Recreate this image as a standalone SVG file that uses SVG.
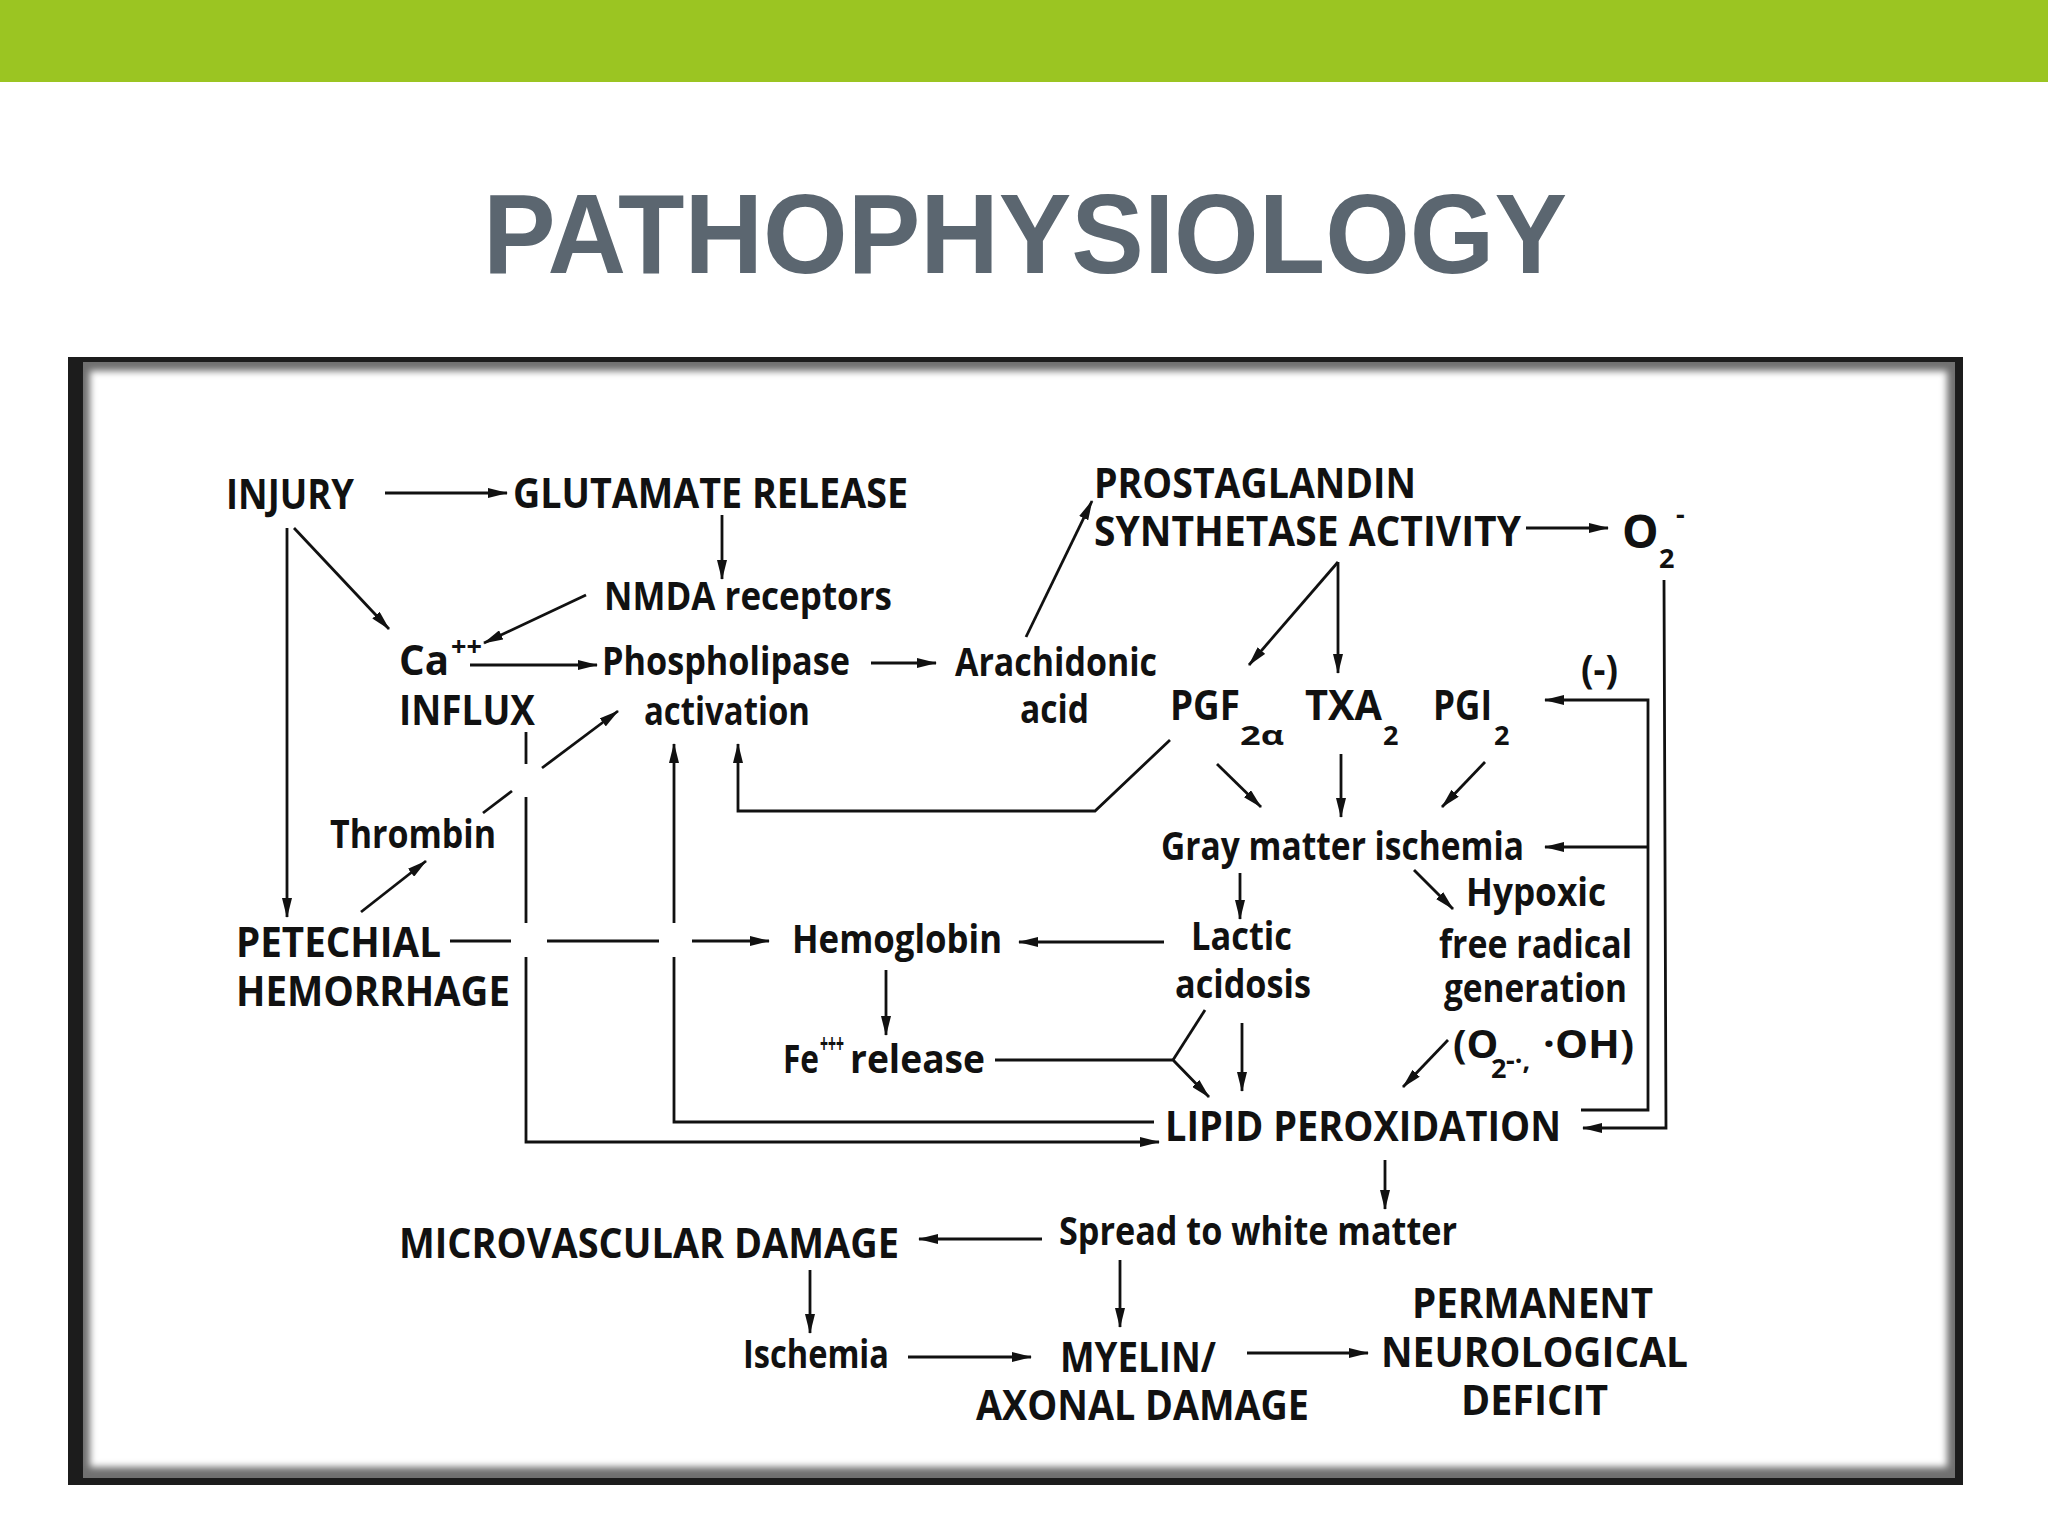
<svg xmlns="http://www.w3.org/2000/svg" width="2048" height="1536" viewBox="0 0 2048 1536">
<defs>
<marker id="ah" viewBox="0 0 20 10" refX="19" refY="5" markerWidth="20" markerHeight="10" markerUnits="userSpaceOnUse" orient="auto">
<path d="M0,0 L20,5 L0,10 z" fill="#111"/>
</marker>
<filter id="soft" x="-5%" y="-5%" width="110%" height="110%"><feGaussianBlur stdDeviation="3.5"/></filter>
<style>
.t{font-family:"Open Sans","Noto Sans",sans-serif;font-weight:700;fill:#111;font-size:40px}
.c{font-size:42px}
.s{font-size:27px}
.ln{fill:none;stroke:#111;stroke-width:2.8;stroke-linejoin:miter}
.ar{marker-end:url(#ah)}
</style>
</defs>
<rect x="0" y="0" width="2048" height="1536" fill="#ffffff"/>
<rect x="0" y="0" width="2048" height="82" fill="#9BC522"/>
<text x="1025" y="273" text-anchor="middle" font-family="'Liberation Sans',Arial,sans-serif" font-weight="700" font-size="113" fill="#5B6670" textLength="1084" lengthAdjust="spacingAndGlyphs">PATHOPHYSIOLOGY</text>

<g id="frame">
<rect x="68" y="357" width="1895" height="1128" fill="#1c1c1c"/>
<rect x="83" y="362" width="1872" height="1116" fill="#707070"/>
<rect x="90" y="371" width="1857" height="1096" fill="#ffffff" filter="url(#soft)"/>
</g>

<g id="connectors">
<path class="ln ar" d="M385,493 L507,493"/>
<path class="ln ar" d="M722,515 L722,579"/>
<path class="ln ar" d="M586,595 L484,643"/>
<path class="ln ar" d="M294,528 L389,629"/>
<path class="ln ar" d="M287,528 L287,917"/>
<path class="ln ar" d="M470,665 L597,665"/>
<path class="ln ar" d="M871,663 L936,663"/>
<path class="ln ar" d="M1026,637 L1092,501"/>
<path class="ln ar" d="M1526,528 L1608,528"/>
<path class="ln ar" d="M1338,562 L1249,665"/>
<path class="ln ar" d="M1338,562 L1338,673"/>
<path class="ln ar" d="M1217,764 L1261,807"/>
<path class="ln ar" d="M1341,754 L1341,817"/>
<path class="ln ar" d="M1485,762 L1442,807"/>
<path class="ln ar" d="M1170,740 L1095,811 L738,811 L738,744"/>
<path class="ln" d="M483,813 L512,791"/>
<path class="ln ar" d="M542,768 L618,711"/>
<path class="ln ar" d="M361,912 L426,861"/>
<path class="ln" d="M450,941 L511,941 M547,941 L659,941"/>
<path class="ln ar" d="M692,941 L769,941"/>
<path class="ln" d="M526,732 L526,764 M526,797 L526,923"/>
<path class="ln ar" d="M526,957 L526,1142 L1159,1142"/>
<path class="ln" d="M1154,1122 L674,1122 L674,957"/>
<path class="ln ar" d="M674,923 L674,744"/>
<path class="ln ar" d="M1164,942 L1019,942"/>
<path class="ln ar" d="M886,970 L886,1035"/>
<path class="ln ar" d="M995,1060 L1173,1060 L1209,1097"/>
<path class="ln" d="M1205,1010 L1173,1060"/>
<path class="ln ar" d="M1242,1023 L1242,1091"/>
<path class="ln ar" d="M1240,873 L1240,919"/>
<path class="ln ar" d="M1414,870 L1453,909"/>
<path class="ln ar" d="M1448,1040 L1403,1087"/>
<path class="ln ar" d="M1664,580 L1666,1128 L1583,1128"/>
<path class="ln ar" d="M1581,1110 L1648,1110 L1648,700 L1545,700"/>
<path class="ln ar" d="M1648,847 L1545,847"/>
<path class="ln ar" d="M1385,1160 L1385,1209"/>
<path class="ln ar" d="M1042,1239 L919,1239"/>
<path class="ln ar" d="M810,1270 L810,1333"/>
<path class="ln ar" d="M1120,1260 L1120,1327"/>
<path class="ln ar" d="M908,1357 L1031,1357"/>
<path class="ln ar" d="M1247,1353 L1368,1353"/>
</g>

<g id="injury"><text class="t c" x="226" y="509" textLength="128" lengthAdjust="spacingAndGlyphs">INJURY</text></g>
<g id="glutamate"><text class="t c" x="513" y="508" textLength="395" lengthAdjust="spacingAndGlyphs">GLUTAMATE RELEASE</text></g>
<g id="nmda"><text class="t" x="604" y="610" textLength="288" lengthAdjust="spacingAndGlyphs">NMDA receptors</text></g>
<g id="ca-influx">
<text class="t c"><tspan x="399" y="675" textLength="50" lengthAdjust="spacingAndGlyphs">Ca</tspan><tspan class="s" x="451" y="656" font-size="22">++</tspan></text>
<text class="t c" x="399" y="725" textLength="136" lengthAdjust="spacingAndGlyphs">INFLUX</text>
</g>
<g id="phospholipase">
<text class="t" x="602" y="675" textLength="248" lengthAdjust="spacingAndGlyphs">Phospholipase</text>
<text class="t" x="644" y="725" textLength="166" lengthAdjust="spacingAndGlyphs">activation</text>
</g>
<g id="arachidonic">
<text class="t" x="955" y="676" textLength="202" lengthAdjust="spacingAndGlyphs">Arachidonic</text>
<text class="t" x="1020" y="723" textLength="69" lengthAdjust="spacingAndGlyphs">acid</text>
</g>
<g id="prostaglandin">
<text class="t c" x="1094" y="498" textLength="322" lengthAdjust="spacingAndGlyphs">PROSTAGLANDIN</text>
<text class="t c" x="1094" y="546" textLength="427" lengthAdjust="spacingAndGlyphs">SYNTHETASE ACTIVITY</text>
</g>
<g id="o2">
<text class="t c"><tspan x="1622" y="548" font-size="46">O</tspan><tspan class="s" x="1659" y="568">2</tspan><tspan class="s" x="1676" y="524">-</tspan></text>
</g>
<g id="minus"><text class="t" x="1581" y="683" textLength="37" lengthAdjust="spacingAndGlyphs">(-)</text></g>
<g id="pgf">
<text class="t c"><tspan x="1170" y="720" textLength="70" lengthAdjust="spacingAndGlyphs">PGF</tspan><tspan class="s" x="1240" y="745" textLength="44" lengthAdjust="spacingAndGlyphs">2α</tspan></text>
</g>
<g id="txa">
<text class="t c"><tspan x="1305" y="720" textLength="77" lengthAdjust="spacingAndGlyphs">TXA</tspan><tspan class="s" x="1383" y="745">2</tspan></text>
</g>
<g id="pgi">
<text class="t c"><tspan x="1433" y="720" textLength="59" lengthAdjust="spacingAndGlyphs">PGI</tspan><tspan class="s" x="1494" y="745">2</tspan></text>
</g>
<g id="thrombin"><text class="t" x="330" y="848" textLength="166" lengthAdjust="spacingAndGlyphs">Thrombin</text></g>
<g id="petechial">
<text class="t c" x="236" y="957" textLength="205" lengthAdjust="spacingAndGlyphs">PETECHIAL</text>
<text class="t c" x="236" y="1006" textLength="274" lengthAdjust="spacingAndGlyphs">HEMORRHAGE</text>
</g>
<g id="hemoglobin"><text class="t" x="792" y="953" textLength="210" lengthAdjust="spacingAndGlyphs">Hemoglobin</text></g>
<g id="fe">
<text class="t"><tspan x="783" y="1073" textLength="36" lengthAdjust="spacingAndGlyphs">Fe</tspan><tspan class="s" x="820" y="1053" font-size="22" textLength="24" lengthAdjust="spacingAndGlyphs">+++</tspan><tspan x="850" y="1073" textLength="135" lengthAdjust="spacingAndGlyphs">release</tspan></text>
</g>
<g id="gray"><text class="t" x="1161" y="860" textLength="363" lengthAdjust="spacingAndGlyphs">Gray matter ischemia</text></g>
<g id="lactic">
<text class="t" x="1191" y="950" textLength="101" lengthAdjust="spacingAndGlyphs">Lactic</text>
<text class="t" x="1175" y="998" textLength="136" lengthAdjust="spacingAndGlyphs">acidosis</text>
</g>
<g id="hypoxic">
<text class="t" x="1466" y="906" textLength="140" lengthAdjust="spacingAndGlyphs">Hypoxic</text>
<text class="t" x="1439" y="958" textLength="193" lengthAdjust="spacingAndGlyphs">free radical</text>
<text class="t" x="1444" y="1002" textLength="183" lengthAdjust="spacingAndGlyphs">generation</text>
<text class="t"><tspan x="1453" y="1058">(O</tspan><tspan class="s" x="1491" y="1078">2</tspan><tspan class="s" x="1506" y="1070">-·,</tspan><tspan x="1543" y="1058" textLength="91" lengthAdjust="spacingAndGlyphs">·OH)</tspan></text>
</g>
<g id="lipid"><text class="t c" x="1165" y="1141" textLength="396" lengthAdjust="spacingAndGlyphs">LIPID PEROXIDATION</text></g>
<g id="spread"><text class="t" x="1059" y="1245" textLength="398" lengthAdjust="spacingAndGlyphs">Spread to white matter</text></g>
<g id="microvascular"><text class="t c" x="399" y="1258" textLength="500" lengthAdjust="spacingAndGlyphs">MICROVASCULAR DAMAGE</text></g>
<g id="ischemia"><text class="t" x="743" y="1368" textLength="146" lengthAdjust="spacingAndGlyphs">Ischemia</text></g>
<g id="myelin">
<text class="t c" x="1060" y="1372" textLength="156" lengthAdjust="spacingAndGlyphs">MYELIN/</text>
<text class="t c" x="976" y="1420" textLength="333" lengthAdjust="spacingAndGlyphs">AXONAL DAMAGE</text>
</g>
<g id="permanent">
<text class="t c" x="1412" y="1318" textLength="241" lengthAdjust="spacingAndGlyphs">PERMANENT</text>
<text class="t c" x="1381" y="1367" textLength="307" lengthAdjust="spacingAndGlyphs">NEUROLOGICAL</text>
<text class="t c" x="1461" y="1415" textLength="147" lengthAdjust="spacingAndGlyphs">DEFICIT</text>
</g>
</svg>
